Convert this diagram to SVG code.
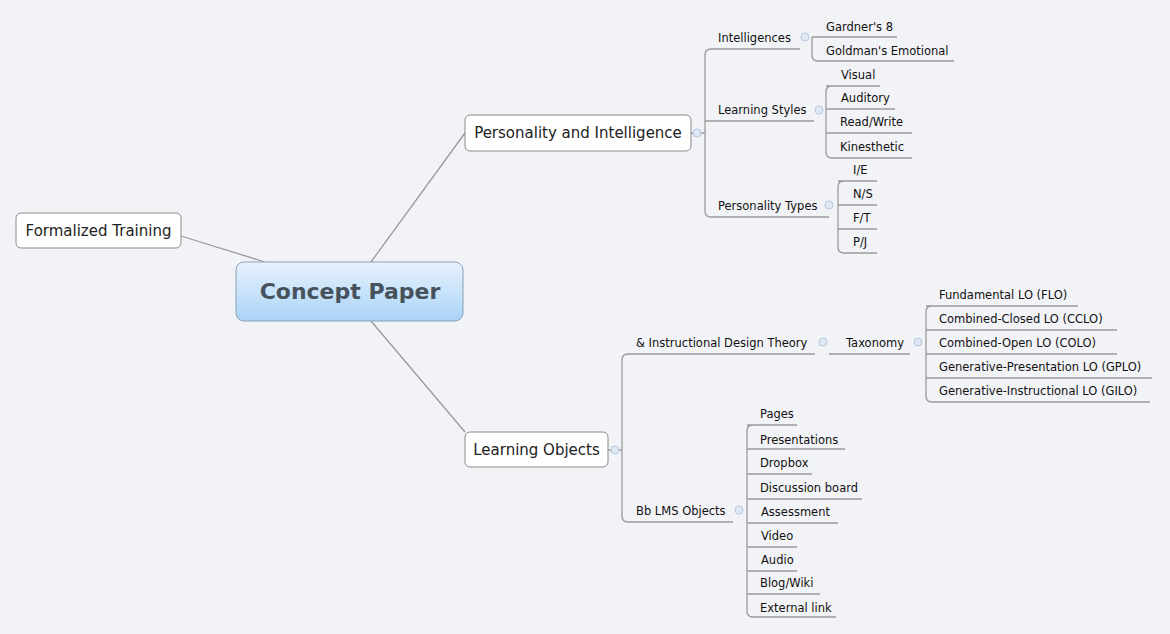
<svg xmlns="http://www.w3.org/2000/svg" width="1170" height="634" viewBox="0 0 1170 634">
<style>
.t{font-family:"DejaVu Sans",Verdana,sans-serif;font-size:11.5px;fill:#111}
.m{font-family:"DejaVu Sans",Verdana,sans-serif;font-size:15px;fill:#222}
.box{fill:#fff;stroke:#8a8a8a;stroke-width:1}
.l{fill:none;stroke:#9a9a9a;stroke-width:1.3}
.c{fill:#dfe8f5;stroke:#b5c7e0;stroke-width:1}
</style>
<defs>
<linearGradient id="g" x1="0" y1="0" x2="0" y2="1">
<stop offset="0" stop-color="#e8f3fd"/><stop offset="1" stop-color="#a9d3f7"/>
</linearGradient>
</defs>
<rect width="1170" height="634" fill="#f2f3f7"/>
<g id="connectors">
<path class="l" d="M181,236 L265,262 M371,262 L465,133 M371,321 L465,432"/>
<path class="l" d="M691,133 H705 M800,49 H711 Q705,49 705,55 V211 Q705,217 711,217 H829 M705,121 H814"/>
<path class="l" d="M812,37 H897 M812,37 V55 Q812,61 818,61 H954"/>
<path class="l" d="M826,86 H880 M832,86 Q826,86 826,92 V152 Q826,158 832,158 H912 M826,109 H895 M826,133 H912"/>
<path class="l" d="M838,181 H877 M844,181 Q838,181 838,187 V247 Q838,253 844,253 H877 M838,205 H877 M838,229 H877"/>
<path class="l" d="M608,450 H622 M815,354 H628 Q622,354 622,360 V516 Q622,522 628,522 H733"/>
<path class="l" d="M829,354 H910"/>
<path class="l" d="M926,306 H1078 M932,306 Q926,306 926,312 V396 Q926,402 932,402 H1150 M926,330 H1117 M926,354 H1117 M926,378 H1152"/>
<path class="l" d="M747,425 H797 M753,425 Q747,425 747,431 V611 Q747,617 753,617 H836 M747,449 H845 M747,474 H812 M747,499 H862 M747,523 H838 M747,547 H797 M747,571 H797 M747,594 H820"/>
</g>
<g id="formalized"><rect class="box" x="16" y="213" width="165" height="35" rx="5"/><text class="m" x="98.5" y="236" text-anchor="middle">Formalized Training</text></g>
<g id="concept"><rect x="236" y="262" width="227" height="59" rx="8" fill="url(#g)" stroke="#8aa0b5"/><text x="350" y="299" text-anchor="middle" style="font-family:'DejaVu Sans',sans-serif;font-weight:bold;font-size:22px;fill:#46525c">Concept Paper</text></g>
<g id="personality"><rect class="box" x="465" y="115" width="226" height="36" rx="5"/><text class="m" x="578" y="138" text-anchor="middle">Personality and Intelligence</text><circle class="c" cx="697" cy="133" r="4"/></g>
<g id="lo"><rect class="box" x="465" y="432" width="143" height="35" rx="5"/><text class="m" x="536.5" y="455" text-anchor="middle">Learning Objects</text><circle class="c" cx="615" cy="450" r="4"/></g>
<g id="intel"><text class="t" x="718" y="42">Intelligences</text><circle class="c" cx="805" cy="37" r="4"/></g>
<g id="gardner"><text class="t" x="826" y="31">Gardner's 8</text></g>
<g id="goldman"><text class="t" x="826" y="55">Goldman's Emotional</text></g>
<g id="ls"><text class="t" x="718" y="114">Learning Styles</text><circle class="c" cx="819" cy="110" r="4"/></g>
<g id="visual"><text class="t" x="841" y="79">Visual</text></g>
<g id="auditory"><text class="t" x="841" y="102">Auditory</text></g>
<g id="rw"><text class="t" x="840" y="126">Read/Write</text></g>
<g id="kin"><text class="t" x="840" y="151">Kinesthetic</text></g>
<g id="pt"><text class="t" x="718" y="210">Personality Types</text><circle class="c" cx="829" cy="205" r="4"/></g>
<g id="ie"><text class="t" x="853" y="174">I/E</text></g>
<g id="ns"><text class="t" x="853" y="198">N/S</text></g>
<g id="ft"><text class="t" x="853" y="222">F/T</text></g>
<g id="pj"><text class="t" x="853" y="246">P/J</text></g>
<g id="idt"><text class="t" x="636" y="347">&amp; Instructional Design Theory</text><circle class="c" cx="823" cy="342" r="4"/></g>
<g id="tax"><text class="t" x="846" y="347">Taxonomy</text><circle class="c" cx="918" cy="342" r="4"/></g>
<g id="flo"><text class="t" x="939" y="299">Fundamental LO (FLO)</text></g>
<g id="cclo"><text class="t" x="939" y="323">Combined-Closed LO (CCLO)</text></g>
<g id="colo"><text class="t" x="939" y="347">Combined-Open LO (COLO)</text></g>
<g id="gplo"><text class="t" x="939" y="371">Generative-Presentation LO (GPLO)</text></g>
<g id="gilo"><text class="t" x="939" y="395">Generative-Instructional LO (GILO)</text></g>
<g id="bb"><text class="t" x="636" y="515">Bb LMS Objects</text><circle class="c" cx="739" cy="510" r="4"/></g>
<g id="pages"><text class="t" x="760" y="418">Pages</text></g>
<g id="pres"><text class="t" x="760" y="444">Presentations</text></g>
<g id="drop"><text class="t" x="760" y="467">Dropbox</text></g>
<g id="disc"><text class="t" x="760" y="492">Discussion board</text></g>
<g id="assess"><text class="t" x="761" y="516">Assessment</text></g>
<g id="video"><text class="t" x="761" y="540">Video</text></g>
<g id="audio"><text class="t" x="761" y="564">Audio</text></g>
<g id="blog"><text class="t" x="760" y="587">Blog/Wiki</text></g>
<g id="ext"><text class="t" x="760" y="612">External link</text></g>
</svg>
